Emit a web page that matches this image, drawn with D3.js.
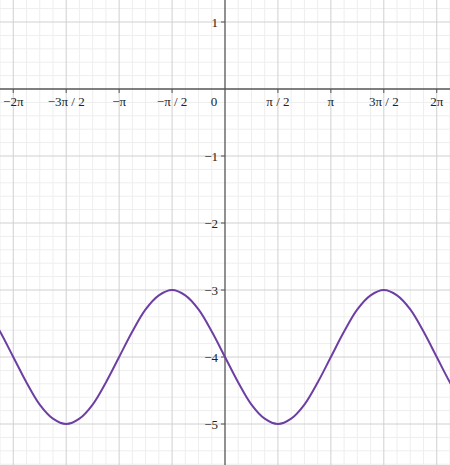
<!DOCTYPE html>
<html><head><meta charset="utf-8">
<script src="https://cdn.jsdelivr.net/npm/d3@7"></script>
<style>body{margin:0;background:#fff}</style>
</head><body><svg id="c" width="450" height="465"></svg>
<script>
const PI = Math.PI;
// x ticks in multiples of pi/2
const xTickMultiples = [-4,-3,-2,-1,0,1,2,3,4];
const xTickLabels = ["−2π","−3π / 2","−π","−π / 2","0","π / 2","π","3π / 2","2π"];
const yTicks = [1,-1,-2,-3,-4,-5];
const yTickLabels = ["1","−1","−2","−3","−4","−5"];
// curve samples, at steps of pi/8 starting at -7pi/4... covering -2.25pi..2.25pi
const sampleStartMultiple = -18; // in units of pi/8
const curveValues = [-3.29,-3.62,-4.00,-4.38,-4.71,-4.92,-5.00,-4.92,-4.71,-4.38,-4.00,-3.62,-3.29,-3.08,-3.00,-3.08,-3.29,-3.62,-4.00,-4.38,-4.71,-4.92,-5.00,-4.92,-4.71,-4.38,-4.00,-3.62,-3.29,-3.08,-3.00,-3.08,-3.29,-3.62,-4.00,-4.38,-4.71];

const W=450,H=465, ux=33.7, uy=67, ox=225, oy=89;
const x = d3.scaleLinear().domain([-ox/ux,(W-ox)/ux]).range([0,W]);
const y = d3.scaleLinear().domain([oy/uy,-(H-oy)/uy]).range([0,H]);
const svg = d3.select("#c");
const [x0,x1]=x.domain(), [y1,y0]=y.domain();
// minor grid
for(let k=Math.ceil(x0/(PI/8));k*PI/8<=x1;k++){ if(k%4===0) continue;
  svg.append("line").attr("x1",x(k*PI/8)).attr("x2",x(k*PI/8)).attr("y1",0).attr("y2",H).attr("stroke","#eeeeee");}
for(let k=Math.ceil(y0/0.2-1e-9);k*0.2<=y1;k++){ if(k%5===0) continue;
  svg.append("line").attr("y1",y(k*0.2)).attr("y2",y(k*0.2)).attr("x1",0).attr("x2",W).attr("stroke","#eeeeee");}
for(let k=Math.ceil(x0/(PI/2));k*PI/2<=x1;k++){ if(k===0) continue;
  svg.append("line").attr("x1",x(k*PI/2)).attr("x2",x(k*PI/2)).attr("y1",0).attr("y2",H).attr("stroke","#d0d0d0");}
for(let k=Math.ceil(y0);k<=y1;k++){ if(k===0) continue;
  svg.append("line").attr("y1",y(k)).attr("y2",y(k)).attr("x1",0).attr("x2",W).attr("stroke","#d0d0d0");}
// axes
svg.append("line").attr("x1",0).attr("x2",W).attr("y1",y(0)).attr("y2",y(0)).attr("stroke","#555").attr("stroke-width",1.3);
svg.append("line").attr("y1",0).attr("y2",H).attr("x1",x(0)).attr("x2",x(0)).attr("stroke","#555").attr("stroke-width",1.3);
const font="'Liberation Serif','DejaVu Serif',serif";
xTickMultiples.forEach((m,i)=>{
  const px=x(m*PI/2);
  if(m!==0) svg.append("line").attr("x1",px).attr("x2",px).attr("y1",y(0)).attr("y2",y(0)+4).attr("stroke","#555");
  const t=svg.append("text").attr("x",m===0?px-11:px).attr("y",y(0)+17).attr("text-anchor","middle")
    .attr("font-family",font).attr("font-size",13).attr("fill","#222").text(xTickLabels[i]);
});
yTicks.forEach((v,i)=>{
  svg.append("line").attr("x1",x(0)-4).attr("x2",x(0)).attr("y1",y(v)).attr("y2",y(v)).attr("stroke","#555");
  svg.append("text").attr("x",x(0)-7).attr("y",y(v)+4.5).attr("text-anchor","end")
    .attr("font-family",font).attr("font-size",13).attr("fill","#222").text(yTickLabels[i]);
});
const pts = curveValues.map((v,i)=>[(sampleStartMultiple+i)*PI/8, v]);
svg.append("path").datum(pts).attr("fill","none").attr("stroke","#6d3fa3").attr("stroke-width",2)
  .attr("d",d3.line().x(d=>x(d[0])).y(d=>y(d[1])).curve(d3.curveCatmullRom.alpha(0.5)));
</script></body></html>
